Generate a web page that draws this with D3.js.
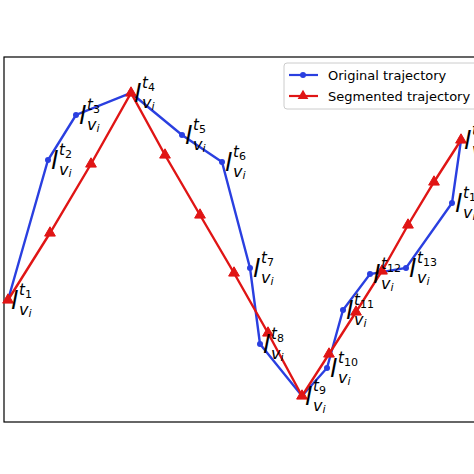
<!DOCTYPE html>
<html>
<head>
<meta charset="UTF-8" />
<script src="https://d3js.org/d3.v7.min.js"></script>
<style>
  body { margin: 0; background: #fff; }
  text { font-family: "DejaVu Sans", sans-serif; }
</style>
</head>
<body>
<div id="chart"></div>
<script>
// Original trajectory points (t1..t15)
const origX = [4, 44, 72, 127, 178, 218, 246, 256, 298, 323, 339, 366, 402, 448, 457];
const origY = [122, 262, 307, 329, 287, 260, 154, 78, 26, 54, 112, 148, 154, 219, 282];
// Segmented trajectory (vertices + triangle markers)
const segX = [4, 46, 87, 127, 161, 196, 230, 264, 298, 325, 352, 378, 404, 430, 457];
const segY = [122, 189, 258, 329, 267, 207, 149, 89, 26, 68, 110, 151, 197, 240, 282];
const labelIdx = d3.range(1, 16);

const W = 474, H = 474;
const svg = d3.select('#chart').append('svg').attr('width', W).attr('height', H);

const x = d3.scaleLinear().domain([0, 480]).range([4, 484]);
const y = d3.scaleLinear().domain([0, 400]).range([422, 22]);

// frame
svg.append('rect').attr('x', 4).attr('y', 57).attr('width', 480).attr('height', 365)
  .attr('fill', 'none').attr('stroke', '#000').attr('stroke-width', 1.2);

const orig = origX.map((d, i) => [d, origY[i]]);
const seg = segX.map((d, i) => [d, segY[i]]);
const line = d3.line().x(d => x(d[0])).y(d => y(d[1]));

svg.append('path').attr('d', line(orig)).attr('fill', 'none')
  .attr('stroke', '#2a3fe0').attr('stroke-width', 2.4);
svg.selectAll('.bdot').data(orig).enter().append('circle')
  .attr('cx', d => x(d[0])).attr('cy', d => y(d[1])).attr('r', 3).attr('fill', '#2a3fe0');

svg.append('path').attr('d', line(seg)).attr('fill', 'none')
  .attr('stroke', '#e01515').attr('stroke-width', 2.4);
const tri = d3.symbol().type(d3.symbolTriangle).size(50);
svg.selectAll('.rtri').data(seg).enter().append('path')
  .attr('d', tri).attr('transform', d => `translate(${x(d[0])},${y(d[1])})`)
  .attr('fill', '#e01515').attr('stroke', '#e01515');

// labels
const lab = svg.selectAll('.lab').data(orig).enter().append('g')
  .attr('transform', d => `translate(${x(d[0]) + 3},${y(d[1])})`);
lab.append('text').attr('x', 0).attr('y', 9).attr('font-size', 25)
  .attr('font-style', 'italic').text('l');
const sup = lab.append('text').attr('x', 8).attr('y', -5).attr('font-size', 15).attr('font-style', 'italic');
sup.append('tspan').text('t');
sup.append('tspan').attr('font-size', 11).attr('dy', 3).attr('font-style', 'normal')
  .text((d, i) => labelIdx[i]);
const sub = lab.append('text').attr('x', 8).attr('y', 15).attr('font-size', 16).attr('font-style', 'italic');
sub.append('tspan').text('v');
sub.append('tspan').attr('font-size', 11).attr('dy', 2).text('i');

// legend
const lg = svg.append('g');
lg.append('rect').attr('x', 284).attr('y', 63).attr('width', 200).attr('height', 46)
  .attr('rx', 3).attr('fill', '#fff').attr('stroke', '#ccc');
lg.append('line').attr('x1', 289).attr('x2', 318).attr('y1', 75).attr('y2', 75)
  .attr('stroke', '#2a3fe0').attr('stroke-width', 2.2);
lg.append('circle').attr('cx', 303).attr('cy', 75).attr('r', 3).attr('fill', '#2a3fe0');
lg.append('line').attr('x1', 289).attr('x2', 318).attr('y1', 96).attr('y2', 96)
  .attr('stroke', '#e01515').attr('stroke-width', 2.2);
lg.append('path').attr('d', tri).attr('transform', 'translate(303,96)').attr('fill', '#e01515');
lg.append('text').attr('x', 328).attr('y', 80).attr('font-size', 13).text('Original trajectory');
lg.append('text').attr('x', 328).attr('y', 101).attr('font-size', 13).text('Segmented trajectory');
</script>
</body>
</html>
